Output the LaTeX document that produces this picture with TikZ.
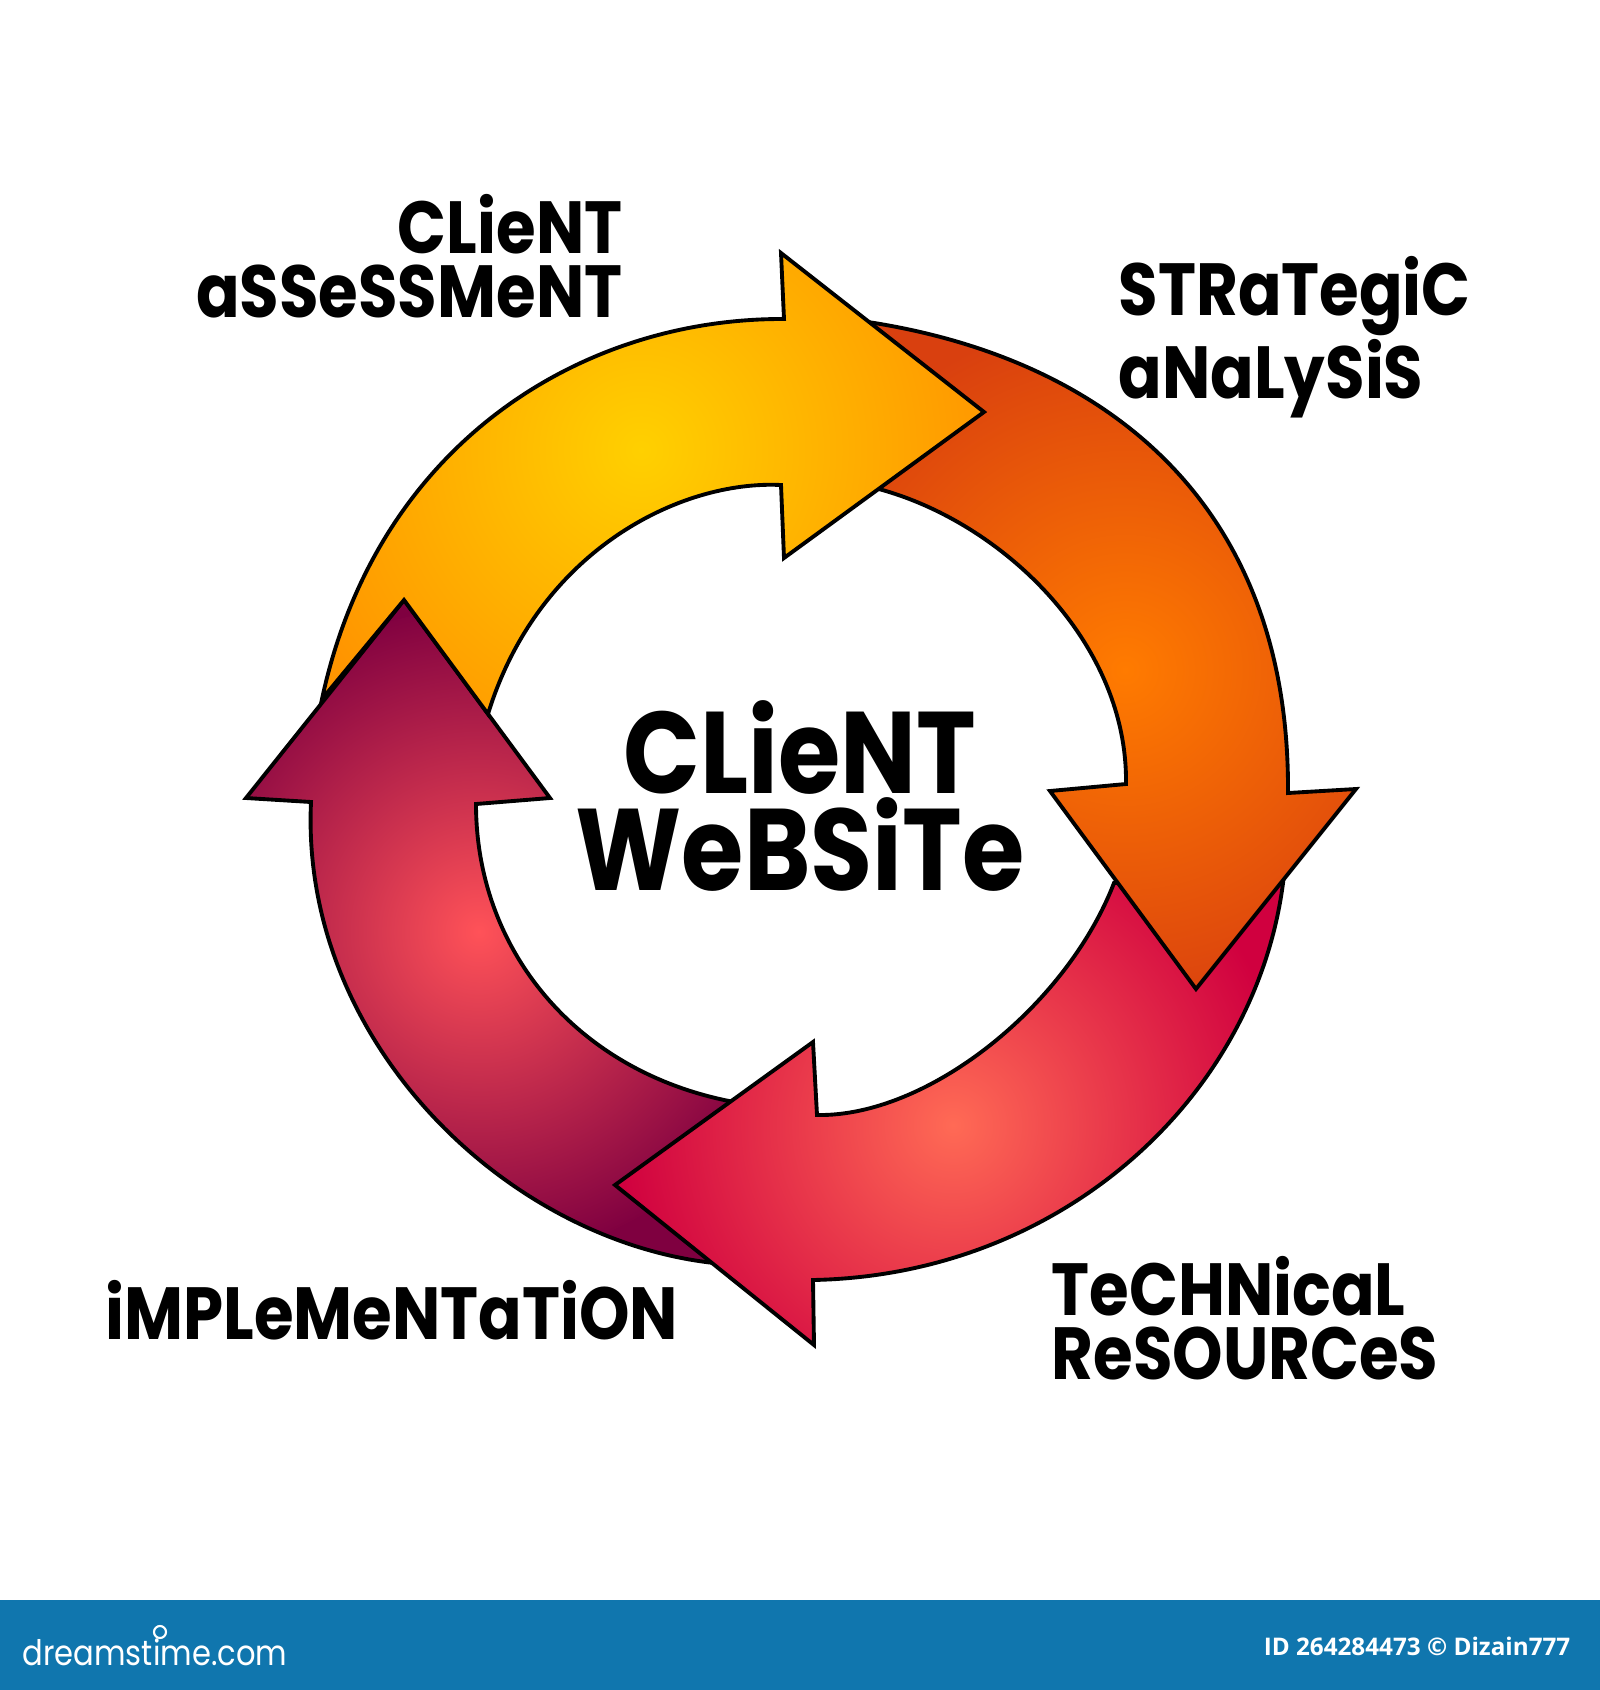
\documentclass[tikz,border=0pt]{standalone}
\usepackage{fontspec}
\setmainfont{Poppins}[FakeStretch=0.87]
\newfontfamily\idfont{Open Sans}
\definecolor{bannerblue}{HTML}{1076AE}
\definecolor{yellowmid}{HTML}{FFD000}
\definecolor{yellowend}{HTML}{FF9500}
\definecolor{orangemid}{HTML}{FF7B00}
\definecolor{orangeend}{HTML}{D9400F}
\definecolor{redmid}{HTML}{FF6A55}
\definecolor{redend}{HTML}{D0003F}
\definecolor{plummid}{HTML}{FF5258}
\definecolor{plumend}{HTML}{7F0040}
\tikzset{
  ringpart/.style n args={4}{draw=black,line width=1.1pt,line join=miter,fill=#2,
    path picture={\shade[inner color=#1,outer color=#2] (#3) circle (#4);}},
  steplabel/.style={inner sep=0pt,font=\fontsize{21}{18}\selectfont\bfseries},
  hublabel/.style={inner sep=0pt,align=center,font=\fontsize{33}{27.5}\selectfont\bfseries}
}
\begin{document}
\begin{tikzpicture}[x=0.01cm,y=-0.01cm]
           \path[fill=white,use as bounding box] (0,0) rectangle (1600,1690);
           \draw[ringpart={plummid}{plumend}{479,934}{325}] (714,1263) .. controls (505,1240) and (300,1040) .. (311,802) -- (246,798) -- (404,600) -- (550,798) -- (476,804) .. controls (476,949) and (575,1070) .. (729,1101) -- cycle;
           \draw[ringpart={redmid}{redend}{956,1125}{335}] (1284,875) .. controls (1260,1092) and (1066,1275) .. (813,1280) -- (814,1345) -- (615,1185) -- (813,1042) -- (817,1115) .. controls (927,1117) and (1066,1007) .. (1114,883) -- cycle;
           \draw[ringpart={orangemid}{orangeend}{1125,670}{355}] (868,322) .. controls (1103,358) and (1290,501) .. (1288,793) -- (1356,789) -- (1196,989) -- (1050,791) -- (1126,784) .. controls (1128,641) and (1000,520) .. (875,488) -- cycle;
           \draw[ringpart={yellowmid}{yellowend}{641,450}{365}] (322,699) .. controls (377,443) and (582,318) .. (784,319) -- (781,253) -- (984,412) -- (784,558) -- (781,485) .. controls (680,480) and (538,551) .. (488,714) -- (404,600) -- cycle;
           \node[steplabel,align=right,anchor=north east] (assessment) at (623,194) {CLieNT\\aSSeSSMeNT};
           \node[steplabel,align=left,anchor=north west] (analysis) at (1118,256) {STRaTegiC\\aNaLySiS};
           \node[steplabel,align=left,anchor=north west] (resources) at (1051,1256) {TeCHNicaL\\ReSOURCeS};
           \node[steplabel,anchor=north west] (implementation) at (105,1280) {iMPLeMeNTaTiON};
           \node[hublabel] (hub) at (800,796) {CLieNT\\WeBSiTe};
           \fill[bannerblue] (0,1600) rectangle (1600,1690);
           \node[inner sep=0pt,anchor=west,text=white,font=\fontsize{10}{12}\selectfont] (brand) at (22,1652) {dreamstime.com};
           \draw[white,line width=0.6pt] (160,1632) circle (6);
           \node[inner sep=0pt,anchor=east,text=white,font=\idfont\fontsize{6.9}{8}\selectfont\bfseries] (stockid) at (1571,1646) {ID 264284473 © Dizain777};
        \end{tikzpicture}
\end{document}
